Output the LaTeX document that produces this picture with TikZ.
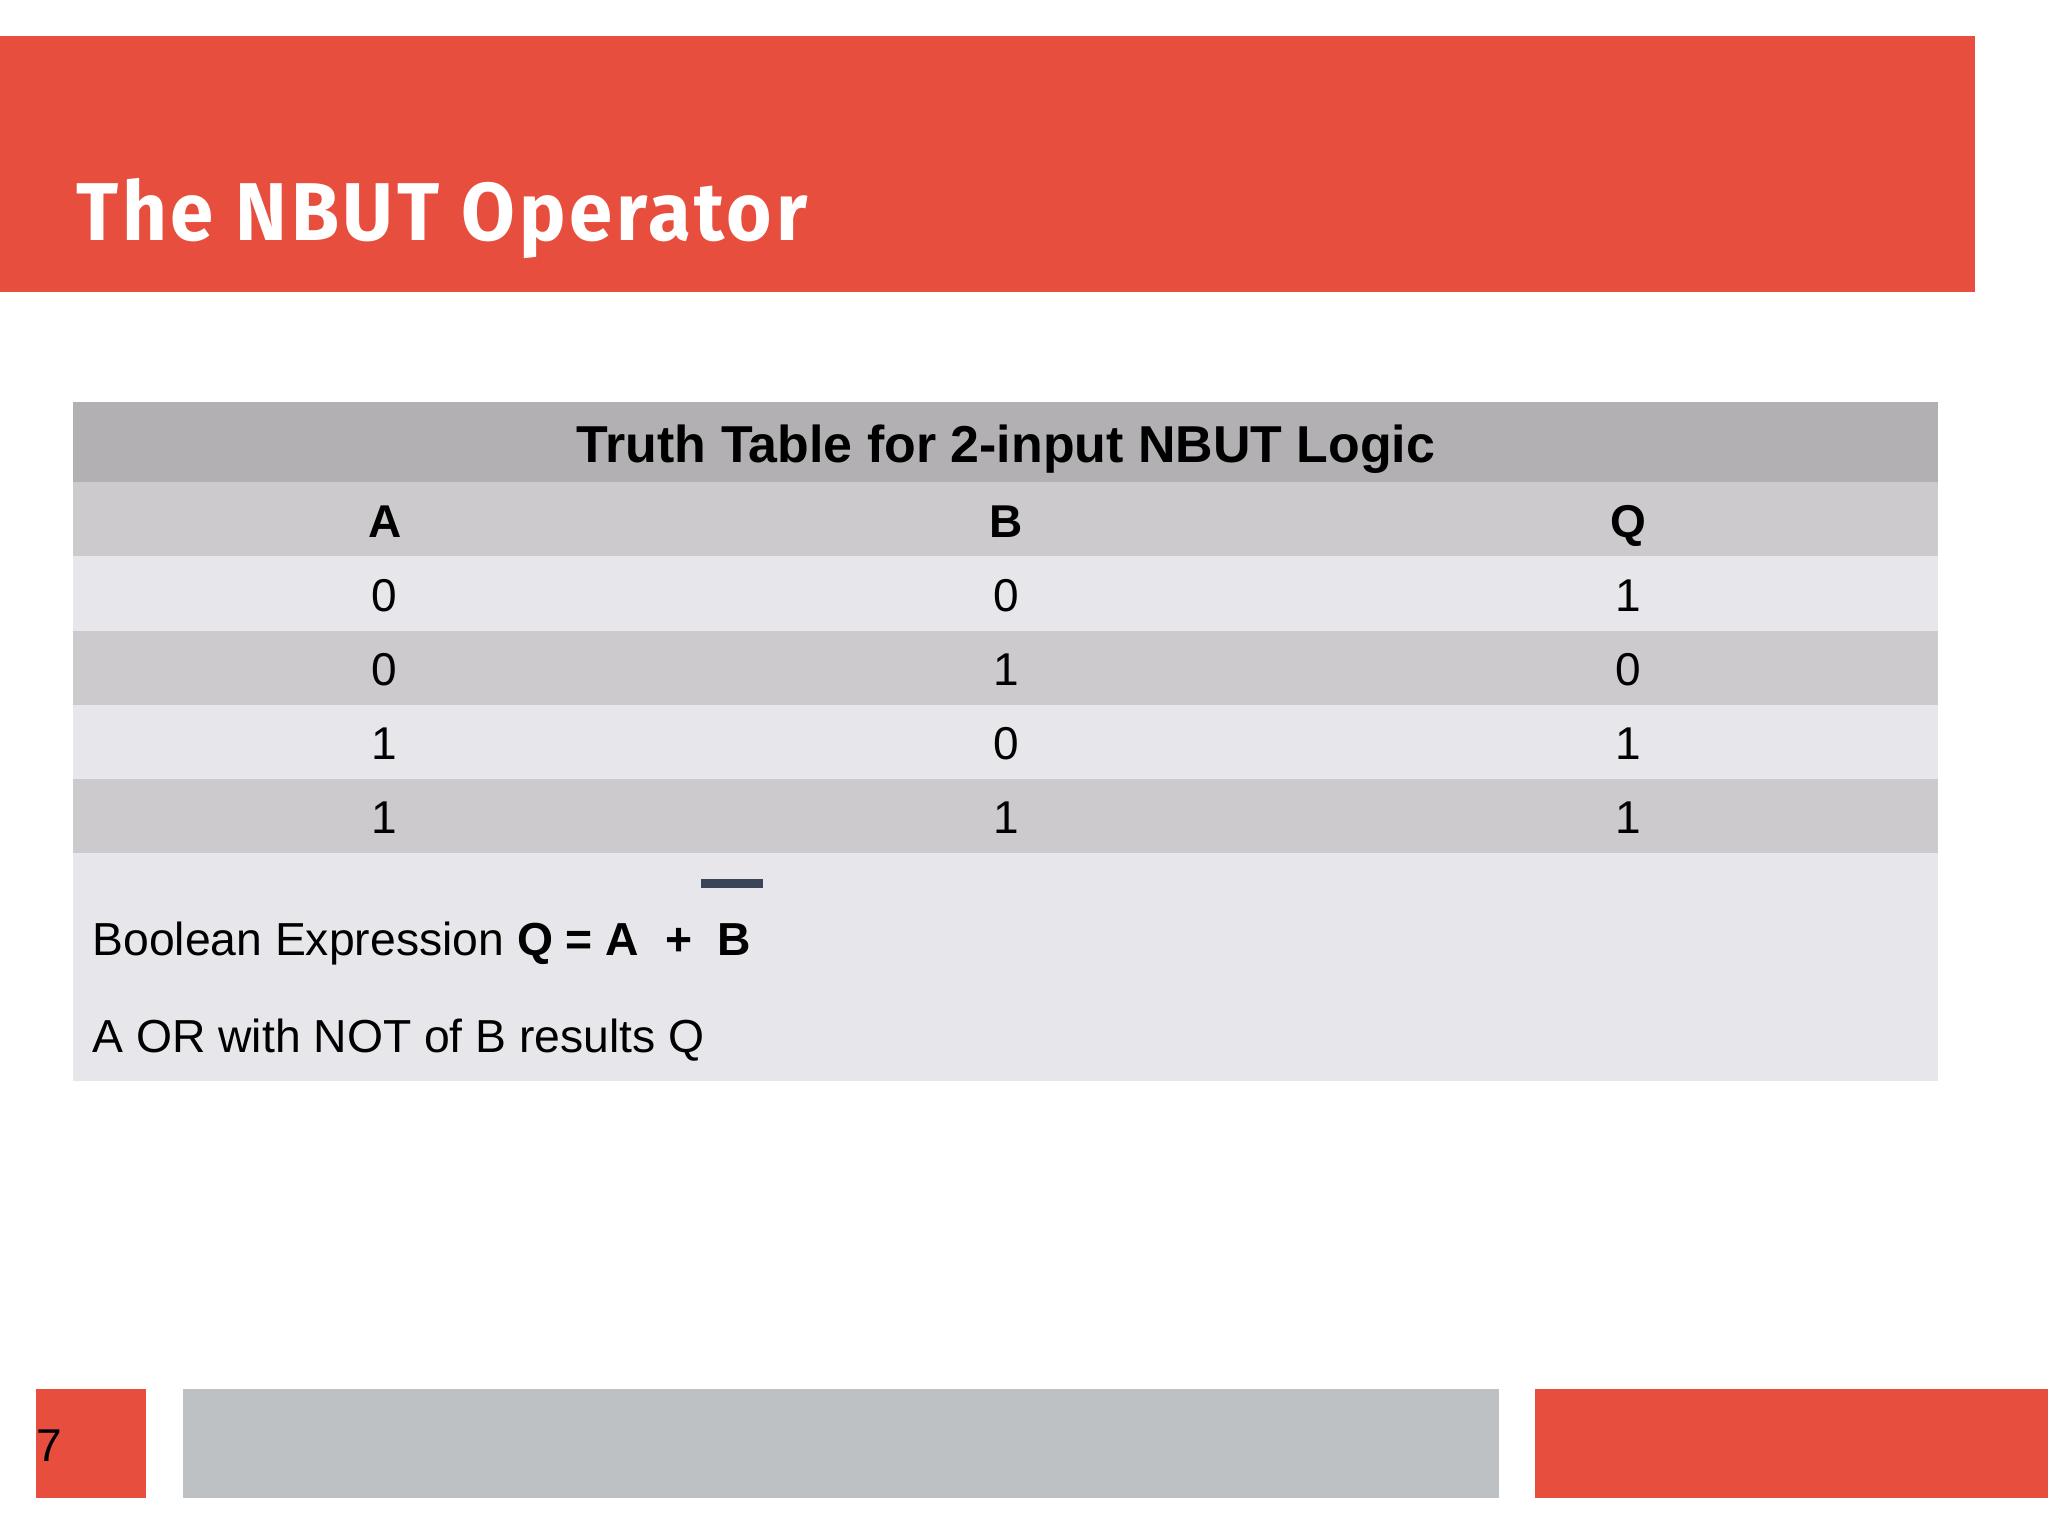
\documentclass[tikz,border=0pt]{standalone}
\usepackage{fontspec}
\setmainfont{Liberation Sans}
\newfontfamily\titlefont[FakeStretch=0.95,LetterSpace=4.5,BoldFont={Fira Sans Bold}]{Fira Sans Bold}
\definecolor{brandred}{HTML}{E84E3D}
\definecolor{headdark}{HTML}{B2B0B3}
\definecolor{rowmid}{HTML}{CCCACD}
\definecolor{rowlight}{HTML}{E7E6EA}
\definecolor{footgray}{HTML}{BEC1C4}
\definecolor{barblue}{HTML}{3A4558}
\tikzset{
  x=0.5pt,y=-0.5pt,
  band/.style={draw=none,fill=#1},
  cell/.style={anchor=base,inner sep=0pt,font=\fontsize{23}{27}\selectfont},
  headcell/.style={anchor=base,inner sep=0pt,font=\fontsize{23}{27}\selectfont\bfseries},
  bodyline/.style={anchor=base west,inner sep=0pt,font=\fontsize{23.15}{27}\selectfont},
}
\begin{document}
\begin{tikzpicture}
\useasboundingbox[fill=white] (0,0) rectangle (2048,1535);
% banner
\path[band=brandred] (0,36) rectangle (1975,292);
\node[anchor=base west,inner sep=0pt,text=white,font=\fontsize{41}{48}\titlefont] (title) at (76,241) {The NBUT Operator};
% table
\path[band=headdark] (73,402) rectangle (1938,482);
\path[band=rowmid] (73,482) rectangle (1938,556);
\path[band=rowlight] (73,556) rectangle (1938,631);
\path[band=rowmid] (73,631) rectangle (1938,705);
\path[band=rowlight] (73,705) rectangle (1938,779);
\path[band=rowmid] (73,779) rectangle (1938,853);
\path[band=rowlight] (73,853) rectangle (1938,1081);
\node[anchor=base,inner sep=0pt,font=\fontsize{25.95}{30}\selectfont\bfseries] (tabletitle) at (1006,462) {Truth Table for 2-input NBUT Logic};
\node[headcell] (hA) at (385,537) {A};
\node[headcell] (hB) at (1006,537) {B};
\node[headcell] (hQ) at (1628,537) {Q};
\node[cell] (r1a) at (384,611) {0};
\node[cell] (r1b) at (1006,611) {0};
\node[cell] (r1q) at (1628,611) {1};
\node[cell] (r2a) at (384,685) {0};
\node[cell] (r2b) at (1006,685) {1};
\node[cell] (r2q) at (1628,685) {0};
\node[cell] (r3a) at (384,759) {1};
\node[cell] (r3b) at (1006,759) {0};
\node[cell] (r3q) at (1628,759) {1};
\node[cell] (r4a) at (384,833) {1};
\node[cell] (r4b) at (1006,833) {1};
\node[cell] (r4q) at (1628,833) {1};
% expression
\path[band=barblue] (701,879) rectangle (763,888);
\node[bodyline] (expr) at (92,955) {Boolean Expression \textbf{Q = A\ \ +\ \ B}};
\node[bodyline] (desc) at (92,1052) {A OR with NOT of B results Q};
% footer
\path[band=brandred] (36,1389) rectangle (146,1498);
\path[band=footgray] (183,1389) rectangle (1499,1498);
\path[band=brandred] (1535,1389) rectangle (2048,1498);
\node[anchor=base west,inner sep=0pt,font=\fontsize{23}{26}\selectfont] (pagenum) at (36,1461) {7};
\end{tikzpicture}
\end{document}
